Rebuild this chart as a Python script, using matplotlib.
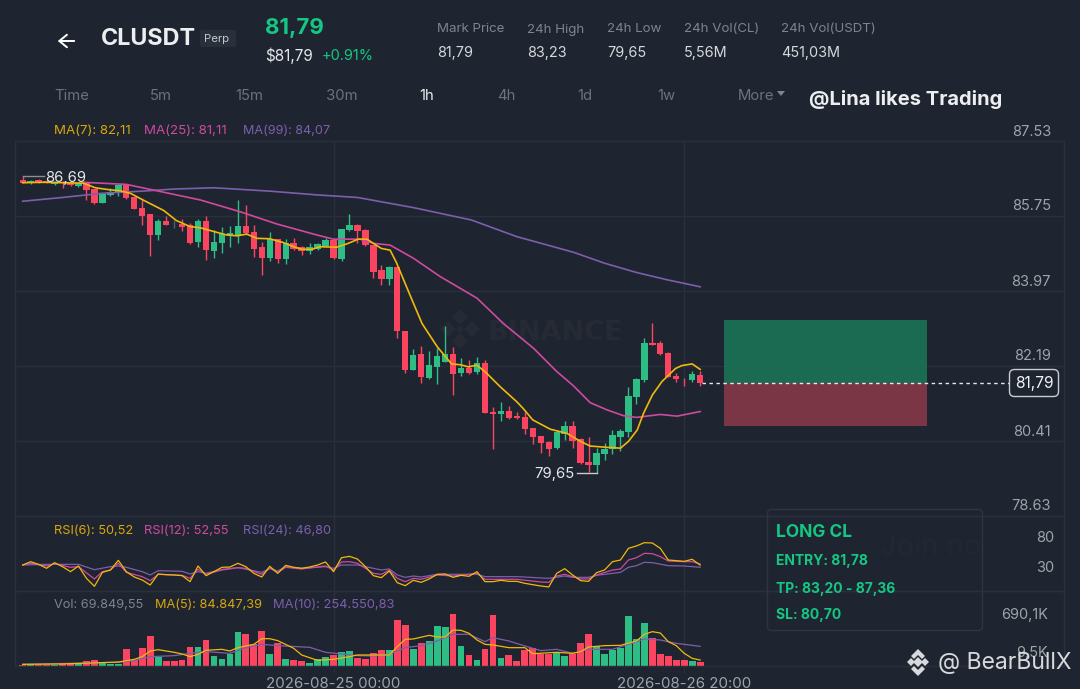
import matplotlib
matplotlib.use('Agg')
import numpy as np
import matplotlib.pyplot as plt
from matplotlib.patches import FancyBboxPatch, Polygon, Rectangle

plt.rcParams['font.family'] = ['Inter', 'DejaVu Sans']

open_p = [86.60, 86.53, 86.60, 86.57, 86.50, 86.56, 86.56, 86.47, 86.53, 86.38,
          86.07, 86.24, 86.33, 86.50, 86.19, 85.93, 85.79, 85.31, 85.64, 85.56,
          85.56, 85.53, 85.13, 85.63, 84.93, 85.10, 85.28, 85.31, 85.51, 85.37,
          85.01, 84.75, 85.20, 84.73, 85.12, 85.01, 84.92, 84.97, 85.04, 85.18,
          84.74, 85.41, 85.54, 85.42, 85.05, 84.47, 84.25, 84.53, 83.02, 82.10,
          82.47, 81.91, 82.17, 82.29, 82.47, 82.02, 82.14, 82.04, 82.27, 81.11,
          81.05, 81.12, 81.00, 80.98, 80.72, 80.53, 80.39, 80.24, 80.58, 80.77,
          80.46, 79.90, 79.84, 80.10, 80.21, 80.51, 80.62, 81.46, 81.86, 82.73,
          82.73, 82.50, 81.95, 81.89, 81.85, 81.98]
close_p = [86.54, 86.59, 86.54, 86.54, 86.56, 86.53, 86.49, 86.54, 86.37, 86.07,
           86.27, 86.33, 86.49, 86.17, 85.92, 85.76, 85.31, 85.64, 85.54, 85.55,
           85.50, 85.12, 85.64, 84.95, 85.13, 85.32, 85.34, 85.51, 85.34, 84.97,
           84.75, 85.20, 84.73, 85.12, 84.97, 84.92, 85.01, 85.08, 85.18, 84.75,
           85.43, 85.54, 85.39, 85.05, 84.43, 84.25, 84.53, 83.01, 82.10, 82.45,
           81.93, 82.21, 82.43, 82.47, 82.00, 82.14, 82.03, 82.25, 81.08, 81.05,
           81.12, 80.95, 80.95, 80.69, 80.50, 80.36, 80.23, 80.62, 80.77, 80.42,
           79.88, 79.84, 80.13, 80.23, 80.55, 80.64, 81.48, 81.89, 82.73, 82.69,
           82.48, 81.94, 81.88, 81.87, 82.00, 81.79]
high_p = [86.69, 86.60, 86.62, 86.60, 86.58, 86.58, 86.58, 86.56, 86.54, 86.40,
          86.30, 86.41, 86.52, 86.52, 86.20, 86.13, 85.80, 85.68, 85.75, 85.66,
          85.68, 85.58, 85.67, 85.74, 85.42, 85.48, 85.51, 86.13, 86.01, 85.54,
          85.13, 85.37, 85.21, 85.20, 85.22, 85.04, 85.12, 85.10, 85.22, 85.19,
          85.44, 85.79, 85.56, 85.43, 85.06, 84.59, 84.56, 84.54, 83.03, 82.59,
          82.66, 82.55, 82.61, 83.15, 82.63, 82.37, 82.33, 82.40, 82.33, 81.21,
          81.33, 81.25, 81.10, 81.10, 80.73, 80.54, 80.40, 80.67, 80.89, 80.89,
          80.47, 80.50, 80.24, 80.37, 80.67, 80.69, 81.68, 81.91, 82.85, 83.22,
          82.78, 82.52, 82.03, 81.90, 82.06, 82.07]
low_p = [86.53, 86.52, 86.53, 86.53, 86.49, 86.42, 86.47, 86.45, 86.13, 86.03,
         86.05, 86.22, 86.23, 86.15, 85.91, 85.54, 84.81, 85.17, 85.53, 85.46,
         85.39, 85.09, 85.02, 84.70, 84.76, 84.87, 85.02, 85.12, 85.33, 84.77,
         84.35, 84.69, 84.64, 84.61, 84.94, 84.82, 84.86, 84.95, 85.03, 84.74,
         84.69, 85.39, 85.12, 85.04, 84.29, 84.11, 84.11, 82.85, 82.03, 82.09,
         81.78, 81.87, 81.76, 82.29, 81.49, 81.96, 82.01, 82.01, 81.07, 80.21,
         80.89, 80.93, 80.93, 80.57, 80.33, 80.13, 80.06, 80.23, 80.43, 80.25,
         79.86, 79.68, 79.65, 79.96, 80.10, 80.18, 80.50, 81.29, 81.80, 82.68,
         82.45, 81.92, 81.82, 81.72, 81.80, 81.72]

ma7_i = [0, 2.6, 7.6, 9.1, 11, 12.2, 13.5, 15.1, 17.7, 19.3, 21, 22.3, 24, 25.6, 26.9, 28.1,
         29.4, 31, 32.7, 34, 35, 36.3, 37.3, 39.4, 40.7, 42.1, 43.2, 44, 45, 46.1, 46.9, 48.6,
         50.1, 52, 53.8, 54.9, 55.9, 57, 58.2, 59.9, 62, 62.8, 64, 66.2, 68.3, 70, 71.2, 73.3,
         75, 76, 77.1, 77.9, 79, 80.2, 81.9, 82.7, 84, 85]
ma7_v = [86.54, 86.55, 86.53, 86.42, 86.37, 86.35, 86.29, 86.13, 85.88, 85.64, 85.50, 85.47,
         85.38, 85.30, 85.28, 85.32, 85.22, 85.21, 85.12, 85.02, 84.96, 84.96, 85.02, 85.01,
         85.09, 85.20, 85.20, 85.10, 84.98, 84.94, 84.64, 83.87, 83.20, 82.65, 82.24, 82.22,
         82.17, 82.21, 82.02, 81.70, 81.34, 81.18, 80.91, 80.69, 80.59, 80.40, 80.29, 80.26,
         80.24, 80.40, 80.67, 81.07, 81.50, 81.82, 82.13, 82.20, 82.24, 82.11]
ma25_i = [7.6, 13, 16.8, 22.3, 27.3, 31.9, 36.9, 39, 42.3, 44, 46.1, 49, 52.4, 57, 60.3, 64.1,
          67, 69.1, 71.2, 73.3, 75.4, 77, 80, 82.1, 85]
ma25_v = [86.55, 86.50, 86.35, 86.13, 85.85, 85.56, 85.30, 85.20, 85.20, 85.10, 85.06, 84.75,
          84.31, 83.80, 83.20, 82.61, 82.06, 81.72, 81.32, 81.15, 81.01, 80.97, 81.04, 81.00,
          81.11]
ma99_i = [0, 5, 10, 15, 19, 24, 31, 37, 42, 49, 56.3, 62, 69.1, 73, 77, 81, 85]
ma99_v = [86.10, 86.19, 86.29, 86.34, 86.39, 86.42, 86.34, 86.25, 86.19, 85.95, 85.655, 85.26,
          84.89, 84.63, 84.41, 84.23, 84.07]

rsi6 = [50.7, 56.4, 51.8, 45, 54.7, 47.8, 39.2, 49, 27.7, 13.9, 38, 42, 58.7, 39.2, 30, 24.8,
        16.2, 35.2, 34, 33.5, 32.3, 22, 49, 32.3, 39.2, 46.7, 47.2, 53.6, 47.8, 36.3, 30, 48.4,
        36.3, 50.1, 46.7, 45, 47.2, 50.7, 55.9, 39.2, 63.3, 65.6, 61, 47.8, 32.3, 28.9, 40.3,
        20.2, 15, 24.3, 20.8, 26.6, 34.6, 35.2, 29.4, 32.9, 31.2, 39.2, 22, 22, 24.3, 22.5, 22.5,
        19.1, 16.8, 14.5, 12.8, 36.3, 44.4, 33.5, 23.7, 22.5, 37.5, 42.1, 56.4, 59.3, 79.4, 83.5,
        89.2, 88.6, 79.4, 59.3, 58.2, 57, 60.5, 50.52]
rsi12_i = [0, 1, 3, 4, 6, 7, 9, 10, 11, 12, 13, 15, 16, 17, 20, 21, 22, 23, 25, 27, 28, 30, 31, 32,
           33, 35, 38, 39, 40, 41, 42, 43, 44, 45, 46, 47, 48, 49, 50, 52, 54, 57, 58, 62, 65, 66,
           67, 68, 70, 71, 72, 74, 75, 76, 77, 78, 79, 80, 81, 83, 84, 85]
rsi12_v = [50.7, 53.6, 49, 53, 46.7, 47.8, 26.6, 39.2, 42, 53.6, 38, 30.6, 23.7, 34.6, 32.9, 27.7,
           43.2, 35.2, 42, 46.1, 45, 34.6, 45, 38, 46.7, 43.8, 49, 42, 55.9, 56.4, 53.6, 45, 36.3,
           34.6, 42, 27.7, 22, 27.7, 26, 33.5, 31.7, 36.3, 26, 26, 21.4, 20.8, 31.7, 34.6, 26.6,
           26.6, 33.5, 42, 43.8, 59.3, 63.3, 70.8, 70.2, 65.1, 57.6, 56.4, 56.4, 52.55]
rsi24_i = [0, 3, 7, 9, 11, 12, 13, 15, 16, 17, 20, 21, 22, 23, 25, 27, 30, 31, 32, 33, 35, 38, 39,
           40, 42, 43, 45, 46, 47, 48, 49, 50, 52, 57, 58, 62, 66, 68, 69, 71, 72, 75, 76, 77, 78,
           79, 81, 83, 85]
rsi24_v = [50.7, 51.8, 51.8, 42.6, 47.8, 49, 46.7, 39.2, 33.5, 40.9, 39.8, 35.2, 39.2, 36.3, 43.2,
           46.1, 38, 45, 40.4, 47.8, 45, 47.8, 45, 50.7, 50.7, 47.8, 42.1, 43.8, 33.5, 29.4, 31.7,
           30, 34.6, 34.6, 30.6, 30.6, 27.7, 31.7, 29.4, 29.4, 32.9, 38, 46.7, 49.5, 55.3, 54.7,
           49.5, 49, 46.8]

# volume in thousands
vol = [17, 28, 22, 22, 22, 45, 28, 28, 78, 95, 45, 34, 34, 286, 95, 308, 498, 157, 90, 84, 101,
       319, 319, 442, 174, 123, 196, 571, 538, 364, 588, 207, 381, 123, 106, 84, 50, 112, 151, 190,
       230, 252, 140, 112, 218, 263, 263, 773, 689, 291, 381, 420, 672, 655, 879, 336, 185, 101,
       286, 857, 134, 185, 84, 269, 302, 202, 202, 235, 174, 202, 386, 538, 336, 202, 269, 302,
       840, 448, 728, 476, 202, 168, 101, 101, 78, 70]
vol_ma5_i = [0, 5, 12, 14, 15, 16, 17, 19, 20, 21, 22, 23, 25, 26, 27, 29, 30, 31, 32, 34, 35, 36,
             37, 39, 41, 42, 44, 46, 47, 48, 49, 51, 52, 53, 54, 55, 56, 57, 58, 59, 61, 63, 64, 67,
             69, 70, 71, 73, 75, 77, 78, 79, 80, 81, 82, 83, 84, 85]
vol_ma5_v = [28, 34, 67, 112, 157, 252, 274, 230, 202, 157, 196, 263, 280, 252, 308, 364, 459, 459,
             426, 297, 185, 140, 95, 112, 157, 185, 185, 185, 325, 448, 454, 515, 487, 487, 605,
             599, 549, 437, 364, 353, 308, 308, 207, 230, 213, 241, 319, 342, 347, 420, 532, 577,
             554, 409, 342, 213, 129, 100]
vol_ma10_i = [0, 12, 14, 16, 19, 21, 23, 26, 28, 30, 32, 36, 38, 42, 44, 46, 48, 50, 52, 54, 56, 58,
              59, 61, 63, 65, 67, 69, 71, 74, 76, 78, 80, 82, 85]
vol_ma10_v = [28, 62, 90, 157, 174, 213, 241, 213, 308, 364, 342, 314, 230, 174, 168, 196, 308, 342,
              420, 532, 532, 409, 476, 420, 336, 258, 280, 213, 280, 280, 364, 454, 437, 381, 330]

price_ticks = ['87.53', '85.75', '83.97', '82.19', '80.41', '78.63']
price_levels = [87.53, 85.75, 83.97, 82.19, 80.41, 78.63]
date_pos = [39, 83]
date_labels = ['2026-08-25 00:00', '2026-08-26 20:00']
tabs = ['Time', '5m', '15m', '30m', '1h', '4h', '1d', '1w', 'More']
stat_names = ['Mark Price', '24h High', '24h Low', '24h Vol(CL)', '24h Vol(USDT)']
stat_values = ['81,79', '83,23', '79,65', '5,56M', '451,03M']
last_price = 81.79
tp_price = 83.28
sl_price = 80.76

BG = '#1e2530'
GRID = '#2a303b'
UP = '#2ebd85'
DOWN = '#fb4560'
YEL = '#f0b90b'
PINK = '#cf4a9f'
PUR = '#7d5ead'
GRAY = '#7f848c'
LIGHT = '#a0a4aa'
FAINT = '#252a35'
W, H = 1080, 689
X_LEFT, X_RIGHT = 15, 1064


def panel(top, bottom):
    a = fig.add_axes([X_LEFT / W, 1 - bottom / H, (X_RIGHT - X_LEFT) / W, (bottom - top) / H])
    a.set_facecolor('none')
    a.set_xlim(-0.966, 130.65)
    a.set_yticks([])
    a.set_xticks(date_pos)
    a.set_xticklabels([])
    a.tick_params(length=0)
    a.grid(True, axis='x', color=GRID, lw=1)
    a.set_axisbelow(True)
    for s in a.spines.values():
        s.set_color(GRID)
        s.set_linewidth(1)
    return a


fig = plt.figure(figsize=(W / 100, H / 100), dpi=100, facecolor=BG)
ax = panel(141, 516)
ax_r = panel(516, 591)
ax_v = panel(591, 666)
ov = fig.add_axes([0, 0, 1, 1], zorder=10)
ov.set_xlim(0, W)
ov.set_ylim(H, 0)
ov.axis('off')


def put(x, y, s, color=GRAY, size=10, weight='normal', ha='left', **kw):
    # matplotlib centres on the box with descent, so nudge down a bit
    return ov.text(x, y + 1.5, s, color=color, fontsize=size, fontweight=weight, ha=ha, va='center', **kw)


# main panel
idx = np.arange(len(open_p))
o = np.array(open_p)
c = np.array(close_p)
colors = [UP if a >= b else DOWN for a, b in zip(c, o)]
colors[19] = '#565c68'
ax.set_ylim(78.63, 87.53)
ax.set_yticks(price_levels)
ax.set_yticklabels([])
ax.grid(True, axis='y', color=GRID, lw=1)

# faint logo under the candles
ax.text(488, 333, 'BINANCE', transform=ov.transData, color=FAINT, fontsize=19.5, fontweight='bold',
        family='DejaVu Sans', va='center', zorder=0.5)
for cx, cy, r in [(460, 317, 8), (460, 341, 8), (448, 329, 8), (472, 329, 8), (460, 329, 4)]:
    pts = [(cx, cy - r), (cx + r, cy), (cx, cy + r), (cx - r, cy)]
    ax.add_patch(Polygon(pts, closed=True, transform=ov.transData, fc=FAINT, ec='none', zorder=0.5))

ax.vlines(idx, low_p, high_p, colors=colors, lw=1.0, zorder=2)
ax.bar(idx, np.abs(c - o), bottom=np.minimum(o, c), width=0.8, color=colors, zorder=2)
ax.plot(ma99_i, ma99_v, color=PUR, lw=1.2, zorder=3)
ax.plot(ma25_i, ma25_v, color=PINK, lw=1.2, zorder=3)
ax.plot(ma7_i, ma7_v, color=YEL, lw=1.2, zorder=4)

ax.add_patch(Rectangle((88, last_price), 25.5, tp_price - last_price, fc='#1b6b52', ec='none', zorder=3))
ax.add_patch(Rectangle((88, sl_price), 25.5, last_price - sl_price, fc='#7a3644', ec='none', zorder=3))
ax.plot([85.2, 124.9], [last_price, last_price], color='#e6e8ea', lw=1, ls=(0, (2.5, 2.5)), zorder=5)

ax.plot([0.1, 2.7], [86.69, 86.69], color='#8a8f96', lw=1, zorder=5)
ax.text(2.8, 86.66, '86,69', color='#e6e8ea', fontsize=10.7, va='center', zorder=5)
ax.plot([69.6, 72], [79.65, 79.65], color='#c8cacd', lw=1, zorder=5)
ax.text(69.2, 79.62, '79,65', color='#e6e8ea', fontsize=10.7, va='center', ha='right', zorder=5)

# rsi panel
ax_r.set_ylim(80 - (591 - 548) / 0.58, 80 + (548 - 516) / 0.58)
ax_r.plot(idx, rsi6, color=YEL, lw=0.9, zorder=4)
ax_r.plot(rsi12_i, rsi12_v, color=PINK, lw=0.9, zorder=3)
ax_r.plot(rsi24_i, rsi24_v, color=PUR, lw=0.9, zorder=2)

# volume panel
ax_v.set_ylim(0, 1260)
ax_v.bar(idx, vol, width=0.85, color=[UP if a >= b else DOWN for a, b in zip(c, o)], zorder=2)
ax_v.plot(vol_ma10_i, vol_ma10_v, color=PUR, lw=0.9, zorder=3)
ax_v.plot(vol_ma5_i, vol_ma5_v, color=YEL, lw=0.9, zorder=4)
ax_v.set_xticklabels(date_labels, color=LIGHT, fontsize=10.8)
ax_v.tick_params(axis='x', length=5, color=GRID, pad=3)

# header
ov.annotate('', xy=(55, 41), xytext=(77, 41),
            arrowprops=dict(arrowstyle='->,head_length=0.55,head_width=0.45', color='white', lw=1.4))
put(101, 37.5, 'CLUSDT', '#eceef0', 16.8, 'bold')
ov.add_patch(FancyBboxPatch((200, 30), 36, 17, boxstyle='round,pad=0,rounding_size=2', fc='#2a303b', ec='none'))
put(204, 37, 'Perp', '#c4c7cc', 8.2)
put(265, 27, '81,79', '#16c784', 16, 'bold')
put(265, 54, '$81,79', '#e6e8ea', 11)
put(322, 54, '+0.91%', '#16c784', 10.5)
for x, n, v in zip([437, 527, 607, 684, 781], stat_names, stat_values):
    put(x, 28, n, GRAY, 9.6)
    put(x, 51, v, '#d6d8db', 10.4)
for x, t in zip([54, 150, 235, 326, 419, 497, 577, 657, 738], tabs):
    put(x, 95, t, '#eceef0' if t == '1h' else '#6d727b', 10.7)
ov.add_patch(Polygon([(777, 91), (785, 91), (781, 96)], closed=True, fc='#7f848c', ec='none'))
put(809, 98, '@Lina likes Trading', '#eceef0', 14.5, 'bold')

put(54, 130, 'MA(7): 82,11', '#d9a70c', 9.6)
put(144, 130, 'MA(25): 81,11', PINK, 9.6)
put(243, 130, 'MA(99): 84,07', PUR, 9.1)
put(54, 529, 'RSI(6): 50,52', '#d9a70c', 9.2)
put(144, 529, 'RSI(12): 52,55', PINK, 9.3)
put(243, 529, 'RSI(24): 46,80', PUR, 9.2)
put(54, 603, 'Vol: 69.849,55', GRAY, 9.2)
put(155, 603, 'MA(5): 84.847,39', '#d9a70c', 9.2)
put(273, 603, 'MA(10): 254.550,83', PUR, 9.3)

# right side labels
for y, t in zip([130, 205, 280, 355, 430, 505], price_ticks):
    put(1051, y, t, LIGHT, 10.5, ha='right')
put(1054, 537, '80', LIGHT, 10.5, ha='right')
put(1054, 566, '30', LIGHT, 10.5, ha='right')
put(1048, 613, '690,1K', LIGHT, 10.5, ha='right')
put(1048, 651, '9,5K', LIGHT, 10.5, ha='right')
ov.add_patch(FancyBboxPatch((1009.5, 369.5), 49, 27, boxstyle='round,pad=0,rounding_size=5',
                            fc=BG, ec='#c9ccd0', lw=1))
put(1034, 382, '81,79', '#f2f3f4', 11.2, ha='center')

# trade box
put(880, 546, 'Join no', '#222833', 21)
ov.add_patch(FancyBboxPatch((767.5, 509.5), 215, 121, boxstyle='round,pad=0,rounding_size=4',
                            fc='none', ec='#2f3540', lw=1))
put(776, 531, 'LONG CL', '#16c784', 12.5, 'bold')
put(776, 559, 'ENTRY: 81,78', '#16c784', 10, 'bold')
put(776, 587, 'TP: 83,20 - 87,36', '#16c784', 10, 'bold')
put(776, 614, 'SL: 80,70', '#16c784', 10, 'bold')

# bottom right mark
icon = '#d7d9dc'
for pts in ([(918, 657), (923, 662), (918, 667), (913, 662)],
            [(911, 658), (915, 662), (911, 666), (907, 662)],
            [(925, 658), (929, 662), (925, 666), (921, 662)],
            [(918, 649), (925, 656), (922, 659), (918, 655), (914, 659), (911, 656)],
            [(918, 676), (925, 669), (922, 666), (918, 670), (914, 666), (911, 669)]):
    ov.add_patch(Polygon(pts, closed=True, fc=icon, ec='none'))
put(938, 661.5, '@ BearBullX', icon, 16.5)

fig.savefig('out.png', dpi=100, facecolor=BG)
